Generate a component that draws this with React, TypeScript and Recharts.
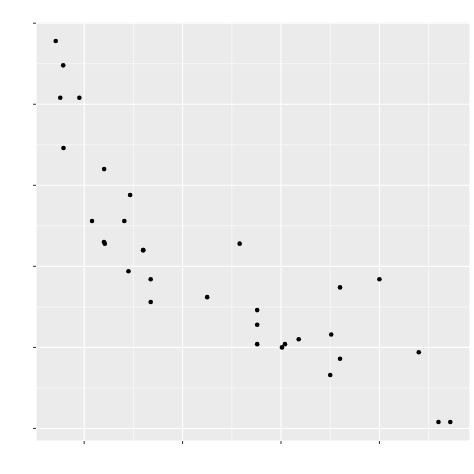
import React from "react";
import { ScatterChart, Scatter, XAxis, YAxis, CartesianGrid, ReferenceLine } from "recharts";

const disp = [160, 160, 108, 258, 360, 225, 360, 146.7, 140.8, 167.6, 167.6, 275.8, 275.8, 275.8, 472, 460, 440, 78.7, 75.7, 71.1, 120.1, 318, 304, 350, 400, 79, 120.3, 95.1, 351, 145, 301, 121];
const mpg = [21.0, 21.0, 22.8, 21.4, 18.7, 18.1, 14.3, 24.4, 22.8, 19.2, 17.8, 16.4, 17.3, 15.2, 10.4, 10.4, 14.7, 32.4, 30.4, 33.9, 21.5, 15.5, 15.2, 13.3, 19.2, 27.3, 26.0, 30.4, 15.8, 19.7, 15.0, 21.4];
const xTicks = [100, 200, 300, 400];
const yTicks = [10, 15, 20, 25, 30, 35];
const xMinor = [150, 250, 350, 450];
const yMinor = [12.5, 17.5, 22.5, 27.5, 32.5];

const xRange = Math.max(...disp) - Math.min(...disp);
const yRange = Math.max(...mpg) - Math.min(...mpg);
const xDomain = [Math.min(...disp) - 0.05 * xRange, Math.max(...disp) + 0.05 * xRange];
const yDomain = [Math.min(...mpg) - 0.05 * yRange, Math.max(...mpg) + 0.05 * yRange];

const data = disp.map((d, i) => ({ disp: d, mpg: mpg[i] }));

const EmptyTick = () => <g />;

export default function App() {
  return (
    <div style={{ position: "absolute", left: 0, top: 0, background: "#fff" }}>
      <ScatterChart width={474} height={474} margin={{ top: 22, right: 4, bottom: 0, left: 0 }}>
        <CartesianGrid fill="#EBEBEB" stroke="#FFFFFF" strokeWidth={1.1} />
        {xMinor.map((v) => (
          <ReferenceLine key={"x" + v} x={v} stroke="#FFFFFF" strokeWidth={0.55} />
        ))}
        {yMinor.map((v) => (
          <ReferenceLine key={"y" + v} y={v} stroke="#FFFFFF" strokeWidth={0.55} />
        ))}
        <XAxis
          type="number"
          dataKey="disp"
          domain={xDomain}
          ticks={xTicks}
          allowDataOverflow
          height={33}
          axisLine={false}
          tickLine={{ stroke: "#333333", strokeWidth: 1 }}
          tickSize={3}
          tick={EmptyTick}
        />
        <YAxis
          type="number"
          dataKey="mpg"
          domain={yDomain}
          ticks={yTicks}
          allowDataOverflow
          width={36}
          axisLine={false}
          tickLine={{ stroke: "#333333", strokeWidth: 1 }}
          tickSize={3}
          tick={EmptyTick}
        />
        <Scatter
          data={data}
          isAnimationActive={false}
          shape={(p: any) => <circle cx={p.cx} cy={p.cy} r={2.3} fill="#000000" />}
        />
      </ScatterChart>
    </div>
  );
}
